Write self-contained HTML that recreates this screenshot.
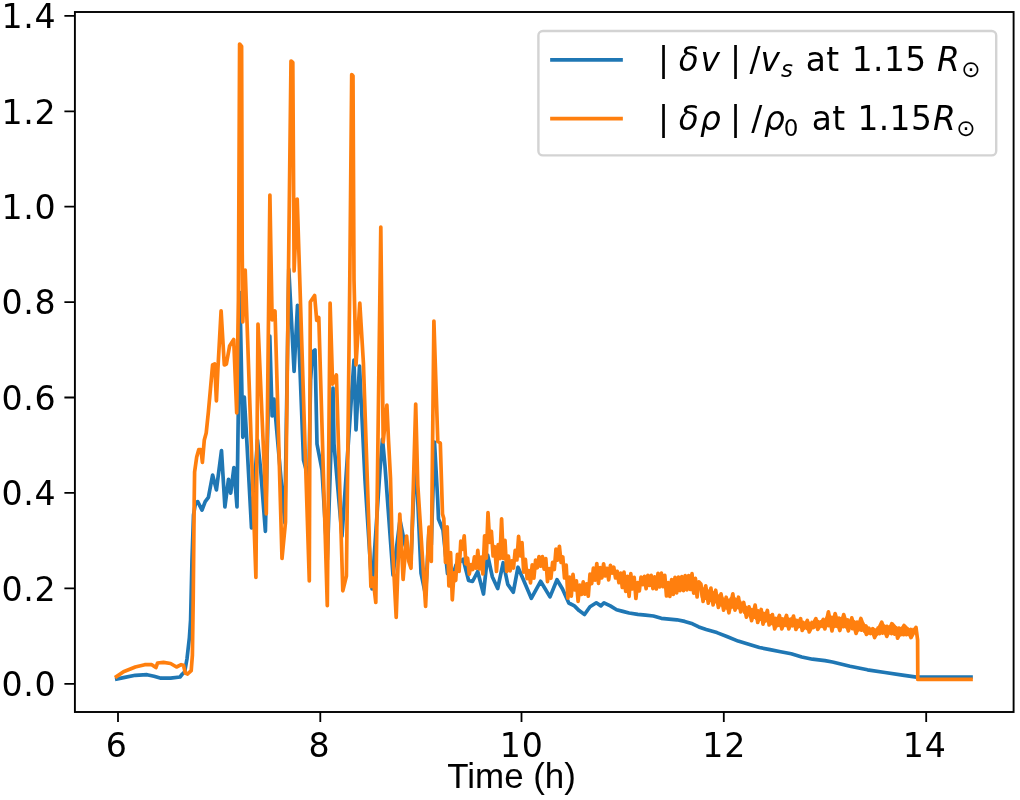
<!DOCTYPE html>
<html><head><meta charset="utf-8"><title>plot</title>
<style>html,body{margin:0;padding:0;background:#fff;}body{width:1020px;height:800px;overflow:hidden;}svg{display:block;}</style>
</head><body>
<svg width="1020" height="800" viewBox="0 0 1020 800"><rect x="0" y="0" width="1020" height="800" fill="#ffffff"/><g fill="none" stroke-linejoin="round" stroke-linecap="square" stroke-width="3.7"><polyline stroke="#1f77b4" points="116.8,679.0 123.5,677.6 135.3,675.3 147.0,674.7 154.0,676.2 161.0,678.2 170.6,678.2 180.0,677.0 182.4,674.0 184.7,671.8 187.0,658.8 189.4,637.6 190.6,620.0 192.0,560.0 193.5,515.0 195.5,503.0 197.7,501.6 202.0,510.1 205.2,501.6 208.4,497.3 212.6,475.0 216.4,489.9 221.5,450.6 224.9,506.9 228.5,479.3 230.7,493.1 233.9,467.6 237.0,506.9 239.9,292.6 242.8,437.3 244.3,397.0 246.6,437.0 251.5,528.0 257.5,440.0 260.6,469.0 265.4,531.3 269.8,336.0 272.1,416.0 274.0,399.0 282.3,494.0 284.8,522.8 288.8,269.0 294.1,371.3 297.5,305.3 303.5,460.0 308.8,480.0 310.6,380.0 312.5,352.0 315.0,350.0 317.0,444.0 322.0,470.0 327.3,560.0 333.0,388.0 334.0,444.0 342.0,536.0 354.0,360.0 356.0,430.0 359.5,366.0 365.0,480.0 372.0,589.0 380.0,470.0 382.5,439.0 385.0,466.0 393.0,575.0 400.0,520.0 405.0,545.0 411.0,560.0 415.5,450.0 421.0,573.0 425.6,595.0 429.0,530.0 431.3,545.0 434.5,442.0 437.7,500.0 438.5,519.0 443.0,530.0 447.5,573.5 452.6,576.0 456.0,565.0 463.2,559.2 468.6,580.5 472.5,581.5 477.7,571.5 483.5,594.0 487.6,555.0 492.3,576.7 497.7,588.5 503.2,562.7 507.8,584.4 513.3,592.2 518.0,567.2 523.4,579.7 531.3,598.4 540.6,581.3 550.0,596.9 557.0,579.7 562.5,589.0 568.8,603.0 574.4,605.9 579.1,610.6 584.5,614.5 590.0,606.7 596.3,602.8 600.9,605.9 604.0,602.8 610.3,605.9 616.6,609.8 622.8,611.4 629.1,613.0 637.8,614.4 645.6,615.2 653.4,616.0 661.3,618.3 669.1,619.1 676.9,619.8 684.7,621.4 692.5,623.8 698.8,626.9 706.2,629.4 716.9,632.6 727.5,636.8 738.1,641.1 748.7,644.3 759.4,647.5 770.0,649.6 780.6,651.7 791.2,653.8 801.8,657.0 812.5,659.2 825.0,660.6 832.5,662.0 850.0,666.2 867.5,669.8 885.0,672.5 902.5,675.2 916.5,677.2 971.0,677.0"/><polyline stroke="#ff7f0e" points="116.5,676.6 123.5,671.8 135.3,667.0 144.7,664.7 151.8,664.7 155.9,667.6 157.6,663.0 163.5,662.4 170.6,663.5 176.5,667.0 181.2,664.7 183.5,665.3 185.3,673.0 187.6,674.0 191.2,670.6 192.4,655.0 193.2,600.0 194.2,500.0 194.6,472.0 196.7,457.0 198.8,449.6 200.9,449.6 202.4,462.3 204.3,440.0 206.2,433.0 208.4,411.7 210.5,388.3 212.6,365.0 214.7,364.0 216.4,401.0 217.9,369.0 221.1,310.8 224.3,365.0 226.4,364.0 229.6,346.0 233.7,339.5 236.7,413.0 238.4,300.0 239.6,44.0 241.6,46.5 242.2,250.0 242.8,322.0 245.2,270.0 255.9,577.5 258.0,324.0 266.3,513.8 269.9,195.0 272.1,320.0 275.0,311.0 282.0,558.5 285.5,522.0 291.0,61.0 292.8,62.5 294.1,271.0 297.2,199.0 309.3,581.0 310.3,302.0 314.6,295.5 316.7,320.4 318.8,317.5 327.3,605.7 330.1,303.0 332.6,384.1 336.4,375.0 342.8,590.8 346.4,576.0 349.8,280.0 351.7,74.5 353.0,76.0 354.0,280.0 356.0,365.0 359.8,303.0 363.4,362.9 370.9,586.6 373.0,578.0 375.8,602.5 380.8,227.0 383.2,442.0 386.9,405.0 388.5,440.0 390.5,478.0 391.9,534.5 396.2,617.5 399.8,514.0 403.1,579.5 406.6,536.0 408.8,561.5 411.0,568.3 415.7,404.0 417.8,485.0 425.6,606.5 429.0,527.0 431.3,561.5 433.9,321.0 437.8,441.5 440.3,443.0 442.5,514.0 443.8,518.5 445.5,562.4 447.2,526.9 448.9,586.0 450.6,552.7 452.3,599.8 454.0,572.9 455.7,580.5 457.4,554.4 459.1,571.4 460.8,541.1 462.5,549.3 464.2,535.9 465.9,563.8 467.6,558.2 469.3,574.2 471.0,564.6 472.7,569.5 474.4,556.9 476.1,568.1 477.8,550.4 479.5,569.0 481.2,557.2 482.9,574.0 484.6,535.8 486.3,558.1 488.0,512.5 489.7,542.3 491.4,531.3 493.1,556.0 494.8,546.7 496.5,571.5 498.2,544.5 499.9,558.6 501.6,518.9 503.3,558.4 505.0,540.3 506.7,571.5 508.4,556.1 510.1,570.9 511.8,560.9 513.5,568.0 515.2,550.4 516.9,560.0 518.6,536.3 520.3,555.8 522.0,542.5 523.7,572.1 525.4,559.3 527.1,578.6 528.8,570.6 530.5,582.8 532.2,564.9 533.9,578.1 535.6,560.0 537.3,567.8 539.0,556.6 540.7,566.1 542.4,556.5 544.1,569.1 545.8,558.6 547.5,581.6 549.2,568.6 550.9,578.3 552.6,562.4 554.3,569.5 556.0,549.0 557.7,560.1 559.4,546.3 561.1,562.5 562.8,557.0 564.5,578.0 566.2,565.0 567.9,598.2 569.6,577.1 571.3,596.2 573.0,574.4 574.7,589.8 576.4,580.8 578.1,601.3 579.8,585.1 581.5,594.5 583.2,581.9 584.9,594.2 586.6,583.8 588.3,596.2 590.0,574.2 591.7,583.6 593.4,568.2 595.1,580.1 596.8,563.5 598.5,583.4 600.2,567.6 601.9,577.9 603.6,563.8 605.3,575.9 607.0,568.4 608.7,579.9 610.4,565.4 612.1,573.1 613.8,567.2 615.5,578.0 617.2,571.4 618.9,582.6 620.6,573.1 622.3,587.5 624.0,572.1 625.7,591.3 627.4,576.4 629.1,596.4 630.8,573.6 632.5,589.0 634.2,577.3 635.9,598.5 637.6,582.6 639.3,591.0 641.0,577.1 642.7,584.7 644.4,576.4 646.1,588.7 647.8,575.4 649.5,585.4 651.2,575.4 652.9,588.6 654.6,576.8 656.3,589.0 658.0,573.4 659.7,586.9 661.4,573.2 663.1,586.7 664.8,575.3 666.5,596.0 668.2,582.7 669.9,596.4 671.6,579.6 673.3,594.4 675.0,577.4 676.7,592.8 678.4,577.1 680.1,590.6 681.8,576.6 683.5,590.6 685.2,575.6 686.9,589.9 688.6,575.6 690.3,589.5 692.0,573.6 693.7,593.1 695.4,578.4 697.1,597.0 698.8,581.9 700.9,584.1 703.1,601.4 705.7,585.9 708.3,603.1 710.9,588.1 713.1,604.9 715.7,590.2 718.4,607.5 721.0,593.8 723.6,610.1 726.2,597.2 728.9,612.8 732.8,593.8 735.0,610.1 738.5,597.2 740.7,611.9 743.7,602.5 746.4,617.1 749.0,606.9 751.6,620.6 755.1,605.1 757.7,622.4 761.2,609.5 763.0,624.1 767.4,610.4 769.1,625.0 772.4,614.6 774.7,628.9 779.4,615.4 781.8,628.9 786.5,615.4 788.8,628.9 793.5,616.1 795.9,629.4 800.6,618.6 802.2,630.5 807.3,620.5 809.2,632.0 815.9,618.6 817.8,629.4 823.3,619.4 824.9,628.9 828.4,611.9 832.0,630.9 835.1,613.5 839.8,630.5 843.7,614.6 848.4,630.9 851.8,617.9 856.1,633.4 860.9,618.5 866.4,634.4 872.7,628.6 874.6,637.6 881.7,622.2 886.8,636.4 891.8,623.6 895.7,628.0 897.6,638.1 904.0,625.5 908.4,630.0 911.0,637.6 916.0,627.4 917.6,640.0 917.8,679.4 971.0,679.4"/><polyline stroke="#ff7f0e" points="701.0,588.3 702.5,597.3 704.0,589.2 705.5,598.2 707.0,590.4 708.5,599.2 710.0,591.6 711.5,600.4 713.0,592.9 714.5,601.6 716.0,594.4 717.5,603.2 719.0,596.2 720.5,604.8 722.0,598.1 723.5,606.4 725.0,600.1 726.5,607.9 728.0,600.2 729.5,608.4 731.0,598.9 732.5,607.0 734.0,598.4 735.5,606.6 737.0,600.0 738.5,607.7 740.0,602.1 741.5,609.4 743.0,604.9 744.5,612.2 746.0,607.6 747.5,614.7 749.0,610.0 750.5,616.5 752.0,609.7 753.5,617.3 755.0,609.1 756.5,618.1 758.0,610.9 759.5,619.3 761.0,612.9 762.5,620.4 764.0,613.5 765.5,620.9 767.0,613.9 768.5,621.5 770.0,615.9 771.5,623.4 773.0,618.0 774.5,625.3 776.0,618.5 777.5,625.5 779.0,618.8 780.5,625.5 782.0,618.8 783.5,625.5 785.0,618.8 786.5,625.5 788.0,619.0 789.5,625.6 791.0,619.2 792.5,625.8 794.0,619.6 795.5,626.1 797.0,620.5 798.5,626.7 800.0,621.4 801.5,627.4 803.0,622.3 804.5,628.0 806.0,623.1 807.5,628.7 809.0,623.2 810.5,628.5 812.0,622.5 813.5,627.6 815.0,621.8 816.5,626.8 818.0,621.6 819.5,626.5 821.0,621.9 822.5,626.4 824.0,621.2 825.5,625.8 827.0,617.8 828.5,625.6 830.0,616.6 831.5,626.4 833.0,617.3 834.5,626.5 836.0,617.7 837.5,626.5 839.0,618.0 840.5,626.5 842.0,618.3 843.5,626.7 845.0,619.0 846.5,627.0 848.0,620.0 849.5,627.6 851.0,621.1 852.5,628.6 854.0,621.7 855.5,629.5 857.0,622.0 858.5,629.9 860.0,622.2 861.5,630.2 863.0,623.8 864.5,631.0 866.0,625.9 867.5,632.0 869.0,628.2 870.5,633.5 872.0,630.5 873.5,634.6 875.0,629.9 876.5,634.4 878.0,628.1 879.5,633.7 881.0,626.3 882.5,633.2 884.0,626.1 885.5,633.0 887.0,626.4 888.5,633.2 890.0,626.8 891.5,633.7 893.0,627.2 894.5,634.2 896.0,627.7 897.5,634.6 899.0,628.1 900.5,634.7 902.0,628.5 903.5,634.7 905.0,628.8 906.5,634.7 908.0,629.2 909.5,634.7 911.0,629.5 912.5,634.7 914.0,629.9"/></g><rect x="74.9" y="12.0" width="938.7" height="700.0" fill="none" stroke="#000" stroke-width="1.9" stroke-linejoin="miter"/><path d="M118.0,712.0V722.0M320.3,712.0V722.0M521.5,712.0V722.0M723.8,712.0V722.0M926.2,712.0V722.0M74.9,683.8H64.4M74.9,588.3H64.4M74.9,492.9H64.4M74.9,397.5H64.4M74.9,302.1H64.4M74.9,206.7H64.4M74.9,111.3H64.4M74.9,15.9H64.4" stroke="#000" stroke-width="1.8" fill="none"/><g font-family="'DejaVu Sans', 'Liberation Sans', sans-serif" font-size="33.2" fill="#000"><text x="116.85" y="756.9" text-anchor="middle" letter-spacing="0.9">6</text><text x="319.45" y="756.9" text-anchor="middle" letter-spacing="0.9">8</text><text x="521.65" y="756.9" text-anchor="middle" letter-spacing="0.9">10</text><text x="724.25" y="756.9" text-anchor="middle" letter-spacing="0.9">12</text><text x="924.85" y="756.9" text-anchor="middle" letter-spacing="0.9">14</text><text x="56.4" y="696.0" text-anchor="end" letter-spacing="0.7">0.0</text><text x="56.4" y="600.5" text-anchor="end" letter-spacing="0.7">0.2</text><text x="56.4" y="505.1" text-anchor="end" letter-spacing="0.7">0.4</text><text x="56.4" y="409.7" text-anchor="end" letter-spacing="0.7">0.6</text><text x="56.4" y="314.3" text-anchor="end" letter-spacing="0.7">0.8</text><text x="56.4" y="218.9" text-anchor="end" letter-spacing="0.7">1.0</text><text x="56.4" y="123.5" text-anchor="end" letter-spacing="0.7">1.2</text><text x="56.4" y="28.1" text-anchor="end" letter-spacing="0.7">1.4</text></g><text x="511.6" y="787.9" text-anchor="middle" font-family="'Liberation Sans', Arial, sans-serif" font-size="34.9" fill="#000">Time (h)</text><rect x="538.4" y="31.0" width="457.8" height="124.4" rx="4.5" ry="4.5" fill="#ffffff" fill-opacity="0.8" stroke="#d3d3d3" stroke-width="2.4"/><line x1="552.0" y1="59.9" x2="621.0" y2="59.9" stroke="#1f77b4" stroke-width="3.7" stroke-linecap="square"/><line x1="552.0" y1="118.7" x2="621.0" y2="118.7" stroke="#ff7f0e" stroke-width="3.7" stroke-linecap="square"/><g font-family="'DejaVu Sans', 'Liberation Sans', sans-serif" font-size="33.2" fill="#000"><text x="657.9" y="71.3" font-size="32.8">|</text><text x="678.8" y="71.3" font-size="32.8" font-style="italic">δ</text><text x="700.5" y="71.3" font-size="32.8" font-style="italic">v</text><text x="729.9" y="71.3" font-size="32.8">|</text><text x="749.5" y="71.3" font-size="32.8">/</text><text x="760.6" y="71.3" font-size="32.8" font-style="italic">v</text><text x="781.0" y="77.3" font-size="23.0" font-style="italic">s</text><text x="805.8" y="71.3" font-size="32.8" letter-spacing="0.45">at</text><text x="851.8" y="71.3" font-size="32.8" letter-spacing="0.45">1.15</text><text x="936.9" y="71.3" font-size="32.8" font-style="italic">R</text><text x="961.2" y="77.3" font-size="23.0">⊙</text><text x="657.9" y="129.6" font-size="32.8">|</text><text x="678.8" y="129.6" font-size="32.8" font-style="italic">δ</text><text x="700.0" y="129.6" font-size="32.8" font-style="italic">ρ</text><text x="729.9" y="129.6" font-size="32.8">|</text><text x="751.3" y="129.6" font-size="32.8">/</text><text x="764.0" y="129.6" font-size="32.8" font-style="italic">ρ</text><text x="783.8" y="135.6" font-size="23.0">0</text><text x="811.7" y="129.6" font-size="32.8" letter-spacing="0.45">at</text><text x="857.4" y="129.6" font-size="32.8" letter-spacing="0.45">1.15</text><text x="933.0" y="129.6" font-size="32.8" font-style="italic">R</text><text x="956.3" y="135.6" font-size="23.0">⊙</text></g></svg>
</body></html>
